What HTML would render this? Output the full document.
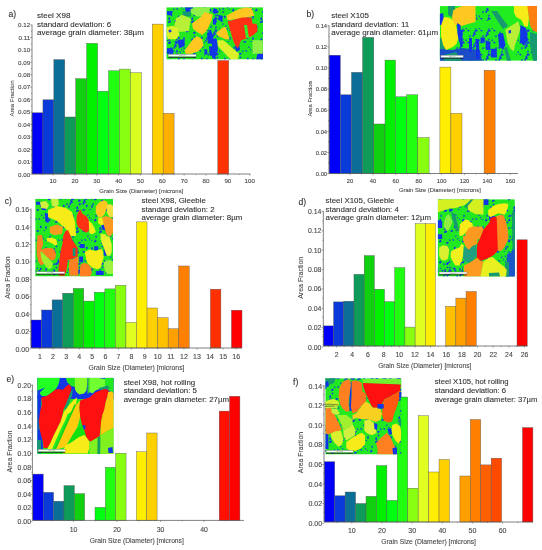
<!DOCTYPE html>
<html><head><meta charset="utf-8"><title>Grain size distributions</title>
<style>
html,body{margin:0;padding:0;background:#fff;}
body{width:542px;height:550px;overflow:hidden;}
svg{display:block;filter:blur(0.5px);}
.tl{font-family:"Liberation Sans",Arial,sans-serif;font-size:6.2px;fill:#4a4a4a;stroke:#4a4a4a;stroke-width:0.12px;}
.at{font-family:"Liberation Sans",Arial,sans-serif;font-size:6px;fill:#454545;stroke:#454545;stroke-width:0.08px;}
.tt{font-family:"Liberation Sans",Arial,sans-serif;font-size:8px;fill:#303030;stroke:#303030;stroke-width:0.1px;}
</style></head>
<body>
<svg width="542" height="550" viewBox="0 0 542 550">
<rect width="542" height="550" fill="#fff"/>
<rect x="32" y="112.8" width="10.93" height="61.2" fill="#0000f8" stroke="#555" stroke-width="0.4"/>
<rect x="42.93" y="99.8" width="10.93" height="74.2" fill="#0a3ad8" stroke="#555" stroke-width="0.4"/>
<rect x="53.86" y="59.6" width="10.93" height="114.4" fill="#0a6e96" stroke="#555" stroke-width="0.4"/>
<rect x="64.79" y="117" width="10.93" height="57" fill="#0e9a58" stroke="#555" stroke-width="0.4"/>
<rect x="75.72" y="78.7" width="10.93" height="95.3" fill="#10d010" stroke="#555" stroke-width="0.4"/>
<rect x="86.65" y="43.4" width="10.93" height="130.6" fill="#00f000" stroke="#555" stroke-width="0.4"/>
<rect x="97.58" y="91.2" width="10.93" height="82.8" fill="#00ff10" stroke="#555" stroke-width="0.4"/>
<rect x="108.51" y="70.8" width="10.93" height="103.2" fill="#20ff10" stroke="#555" stroke-width="0.4"/>
<rect x="119.44" y="69.1" width="10.93" height="104.9" fill="#88ff10" stroke="#555" stroke-width="0.4"/>
<rect x="130.37" y="72.7" width="10.93" height="101.3" fill="#d8ff20" stroke="#555" stroke-width="0.4"/>
<rect x="152.23" y="24.1" width="10.93" height="149.9" fill="#ffd000" stroke="#555" stroke-width="0.4"/>
<rect x="163.16" y="113.4" width="10.93" height="60.6" fill="#ffb000" stroke="#555" stroke-width="0.4"/>
<rect x="217.81" y="60.5" width="10.93" height="113.5" fill="#ff3300" stroke="#555" stroke-width="0.4"/>
<line x1="32" y1="24.5" x2="32" y2="174" stroke="#555" stroke-width="0.75"/>
<line x1="32" y1="174" x2="250.5" y2="174" stroke="#555" stroke-width="0.75"/>
<line x1="30.2" y1="174.3" x2="32" y2="174.3" stroke="#555" stroke-width="0.5"/>
<text x="30.1" y="176.53" text-anchor="end" class="tl" style="font-size:6.2px">0.00</text>
<line x1="30.2" y1="161.86" x2="32" y2="161.86" stroke="#555" stroke-width="0.5"/>
<text x="30.1" y="164.09" text-anchor="end" class="tl" style="font-size:6.2px">0.01</text>
<line x1="30.2" y1="149.42" x2="32" y2="149.42" stroke="#555" stroke-width="0.5"/>
<text x="30.1" y="151.65" text-anchor="end" class="tl" style="font-size:6.2px">0.02</text>
<line x1="30.2" y1="136.98" x2="32" y2="136.98" stroke="#555" stroke-width="0.5"/>
<text x="30.1" y="139.21" text-anchor="end" class="tl" style="font-size:6.2px">0.03</text>
<line x1="30.2" y1="124.54" x2="32" y2="124.54" stroke="#555" stroke-width="0.5"/>
<text x="30.1" y="126.77" text-anchor="end" class="tl" style="font-size:6.2px">0.04</text>
<line x1="30.2" y1="112.1" x2="32" y2="112.1" stroke="#555" stroke-width="0.5"/>
<text x="30.1" y="114.33" text-anchor="end" class="tl" style="font-size:6.2px">0.05</text>
<line x1="30.2" y1="99.66" x2="32" y2="99.66" stroke="#555" stroke-width="0.5"/>
<text x="30.1" y="101.89" text-anchor="end" class="tl" style="font-size:6.2px">0.06</text>
<line x1="30.2" y1="87.22" x2="32" y2="87.22" stroke="#555" stroke-width="0.5"/>
<text x="30.1" y="89.45" text-anchor="end" class="tl" style="font-size:6.2px">0.07</text>
<line x1="30.2" y1="74.78" x2="32" y2="74.78" stroke="#555" stroke-width="0.5"/>
<text x="30.1" y="77.01" text-anchor="end" class="tl" style="font-size:6.2px">0.08</text>
<line x1="30.2" y1="62.34" x2="32" y2="62.34" stroke="#555" stroke-width="0.5"/>
<text x="30.1" y="64.57" text-anchor="end" class="tl" style="font-size:6.2px">0.09</text>
<line x1="30.2" y1="49.9" x2="32" y2="49.9" stroke="#555" stroke-width="0.5"/>
<text x="30.1" y="52.13" text-anchor="end" class="tl" style="font-size:6.2px">0.10</text>
<line x1="30.2" y1="37.46" x2="32" y2="37.46" stroke="#555" stroke-width="0.5"/>
<text x="30.1" y="39.69" text-anchor="end" class="tl" style="font-size:6.2px">0.11</text>
<line x1="30.2" y1="25.02" x2="32" y2="25.02" stroke="#555" stroke-width="0.5"/>
<text x="30.1" y="27.25" text-anchor="end" class="tl" style="font-size:6.2px">0.12</text>
<line x1="31" y1="167.8" x2="32" y2="167.8" stroke="#555" stroke-width="0.5"/>
<line x1="31" y1="155.4" x2="32" y2="155.4" stroke="#555" stroke-width="0.5"/>
<line x1="31" y1="143" x2="32" y2="143" stroke="#555" stroke-width="0.5"/>
<line x1="31" y1="130.6" x2="32" y2="130.6" stroke="#555" stroke-width="0.5"/>
<line x1="31" y1="118.2" x2="32" y2="118.2" stroke="#555" stroke-width="0.5"/>
<line x1="31" y1="105.8" x2="32" y2="105.8" stroke="#555" stroke-width="0.5"/>
<line x1="31" y1="93.4" x2="32" y2="93.4" stroke="#555" stroke-width="0.5"/>
<line x1="31" y1="81" x2="32" y2="81" stroke="#555" stroke-width="0.5"/>
<line x1="31" y1="68.6" x2="32" y2="68.6" stroke="#555" stroke-width="0.5"/>
<line x1="31" y1="56.2" x2="32" y2="56.2" stroke="#555" stroke-width="0.5"/>
<line x1="31" y1="43.8" x2="32" y2="43.8" stroke="#555" stroke-width="0.5"/>
<line x1="31" y1="31.4" x2="32" y2="31.4" stroke="#555" stroke-width="0.5"/>
<line x1="53.05" y1="174" x2="53.05" y2="175.6" stroke="#555" stroke-width="0.5"/>
<text x="53.05" y="183.23" text-anchor="middle" class="tl" style="font-size:6.2px">10</text>
<line x1="74.9" y1="174" x2="74.9" y2="175.6" stroke="#555" stroke-width="0.5"/>
<text x="74.9" y="183.23" text-anchor="middle" class="tl" style="font-size:6.2px">20</text>
<line x1="96.75" y1="174" x2="96.75" y2="175.6" stroke="#555" stroke-width="0.5"/>
<text x="96.75" y="183.23" text-anchor="middle" class="tl" style="font-size:6.2px">30</text>
<line x1="118.6" y1="174" x2="118.6" y2="175.6" stroke="#555" stroke-width="0.5"/>
<text x="118.6" y="183.23" text-anchor="middle" class="tl" style="font-size:6.2px">40</text>
<line x1="140.45" y1="174" x2="140.45" y2="175.6" stroke="#555" stroke-width="0.5"/>
<text x="140.45" y="183.23" text-anchor="middle" class="tl" style="font-size:6.2px">50</text>
<line x1="162.3" y1="174" x2="162.3" y2="175.6" stroke="#555" stroke-width="0.5"/>
<text x="162.3" y="183.23" text-anchor="middle" class="tl" style="font-size:6.2px">60</text>
<line x1="184.15" y1="174" x2="184.15" y2="175.6" stroke="#555" stroke-width="0.5"/>
<text x="184.15" y="183.23" text-anchor="middle" class="tl" style="font-size:6.2px">70</text>
<line x1="206" y1="174" x2="206" y2="175.6" stroke="#555" stroke-width="0.5"/>
<text x="206" y="183.23" text-anchor="middle" class="tl" style="font-size:6.2px">80</text>
<line x1="227.85" y1="174" x2="227.85" y2="175.6" stroke="#555" stroke-width="0.5"/>
<text x="227.85" y="183.23" text-anchor="middle" class="tl" style="font-size:6.2px">90</text>
<line x1="249.7" y1="174" x2="249.7" y2="175.6" stroke="#555" stroke-width="0.5"/>
<text x="249.7" y="183.23" text-anchor="middle" class="tl" style="font-size:6.2px">100</text>
<line x1="42.92" y1="174" x2="42.92" y2="175" stroke="#555" stroke-width="0.5"/>
<line x1="64.78" y1="174" x2="64.78" y2="175" stroke="#555" stroke-width="0.5"/>
<line x1="86.62" y1="174" x2="86.62" y2="175" stroke="#555" stroke-width="0.5"/>
<line x1="108.48" y1="174" x2="108.48" y2="175" stroke="#555" stroke-width="0.5"/>
<line x1="130.32" y1="174" x2="130.32" y2="175" stroke="#555" stroke-width="0.5"/>
<line x1="152.18" y1="174" x2="152.18" y2="175" stroke="#555" stroke-width="0.5"/>
<line x1="174.03" y1="174" x2="174.03" y2="175" stroke="#555" stroke-width="0.5"/>
<line x1="195.88" y1="174" x2="195.88" y2="175" stroke="#555" stroke-width="0.5"/>
<line x1="217.72" y1="174" x2="217.72" y2="175" stroke="#555" stroke-width="0.5"/>
<line x1="239.58" y1="174" x2="239.58" y2="175" stroke="#555" stroke-width="0.5"/>
<text x="141.3" y="193.26" text-anchor="middle" class="at" style="font-size:6.0px">Grain Size (Diameter) [microns]</text>
<text transform="translate(14.06,98.5) rotate(-90)" text-anchor="middle" class="at" style="font-size:6.0px">Area Fraction</text>
<text x="8.4" y="16.8" class="tt" style="font-size:8.6px">a)</text>
<text x="37" y="17.9" class="tt" style="font-size:8.0px">steel X98</text>
<text x="37" y="26.5" class="tt" style="font-size:8.0px">standard deviation: 6</text>
<text x="37" y="35.1" class="tt" style="font-size:8.0px">average grain diameter: 38µm</text>
<rect x="329.1" y="55.2" width="11.2" height="118.3" fill="#0000f8" stroke="#555" stroke-width="0.4"/>
<rect x="340.3" y="94.8" width="11.2" height="78.7" fill="#0a3ad8" stroke="#555" stroke-width="0.4"/>
<rect x="351.5" y="72.3" width="11.1" height="101.2" fill="#0a6e96" stroke="#555" stroke-width="0.4"/>
<rect x="362.6" y="37.4" width="11.2" height="136.1" fill="#0e9a58" stroke="#555" stroke-width="0.4"/>
<rect x="373.8" y="124" width="11.2" height="49.5" fill="#10d010" stroke="#555" stroke-width="0.4"/>
<rect x="385" y="60.1" width="10.5" height="113.4" fill="#00f000" stroke="#555" stroke-width="0.4"/>
<rect x="395.5" y="96.8" width="11.2" height="76.7" fill="#00ff10" stroke="#555" stroke-width="0.4"/>
<rect x="406.7" y="94.8" width="11.1" height="78.7" fill="#20ff10" stroke="#555" stroke-width="0.4"/>
<rect x="417.8" y="137.6" width="11.3" height="35.9" fill="#88ff10" stroke="#555" stroke-width="0.4"/>
<rect x="439.9" y="67.1" width="11" height="106.4" fill="#ffee00" stroke="#555" stroke-width="0.4"/>
<rect x="450.9" y="113.4" width="11.1" height="60.1" fill="#ffd000" stroke="#555" stroke-width="0.4"/>
<rect x="484.1" y="70.3" width="11" height="103.2" fill="#ff8000" stroke="#555" stroke-width="0.4"/>
<line x1="329" y1="25" x2="329" y2="173.5" stroke="#555" stroke-width="0.75"/>
<line x1="329" y1="173.5" x2="518" y2="173.5" stroke="#555" stroke-width="0.75"/>
<line x1="327.2" y1="173.7" x2="329" y2="173.7" stroke="#555" stroke-width="0.5"/>
<text x="327.1" y="175.79" text-anchor="end" class="tl" style="font-size:5.8px">0.00</text>
<line x1="327.2" y1="152.56" x2="329" y2="152.56" stroke="#555" stroke-width="0.5"/>
<text x="327.1" y="154.65" text-anchor="end" class="tl" style="font-size:5.8px">0.02</text>
<line x1="327.2" y1="131.42" x2="329" y2="131.42" stroke="#555" stroke-width="0.5"/>
<text x="327.1" y="133.51" text-anchor="end" class="tl" style="font-size:5.8px">0.04</text>
<line x1="327.2" y1="110.28" x2="329" y2="110.28" stroke="#555" stroke-width="0.5"/>
<text x="327.1" y="112.37" text-anchor="end" class="tl" style="font-size:5.8px">0.06</text>
<line x1="327.2" y1="89.14" x2="329" y2="89.14" stroke="#555" stroke-width="0.5"/>
<text x="327.1" y="91.23" text-anchor="end" class="tl" style="font-size:5.8px">0.08</text>
<line x1="327.2" y1="68" x2="329" y2="68" stroke="#555" stroke-width="0.5"/>
<text x="327.1" y="70.09" text-anchor="end" class="tl" style="font-size:5.8px">0.10</text>
<line x1="327.2" y1="46.86" x2="329" y2="46.86" stroke="#555" stroke-width="0.5"/>
<text x="327.1" y="48.95" text-anchor="end" class="tl" style="font-size:5.8px">0.12</text>
<line x1="327.2" y1="25.72" x2="329" y2="25.72" stroke="#555" stroke-width="0.5"/>
<text x="327.1" y="27.81" text-anchor="end" class="tl" style="font-size:5.8px">0.14</text>
<line x1="328" y1="162.94" x2="329" y2="162.94" stroke="#555" stroke-width="0.5"/>
<line x1="328" y1="141.81" x2="329" y2="141.81" stroke="#555" stroke-width="0.5"/>
<line x1="328" y1="120.68" x2="329" y2="120.68" stroke="#555" stroke-width="0.5"/>
<line x1="328" y1="99.55" x2="329" y2="99.55" stroke="#555" stroke-width="0.5"/>
<line x1="328" y1="78.42" x2="329" y2="78.42" stroke="#555" stroke-width="0.5"/>
<line x1="328" y1="57.29" x2="329" y2="57.29" stroke="#555" stroke-width="0.5"/>
<line x1="328" y1="36.16" x2="329" y2="36.16" stroke="#555" stroke-width="0.5"/>
<line x1="350" y1="173.5" x2="350" y2="175.1" stroke="#555" stroke-width="0.5"/>
<text x="350" y="183.09" text-anchor="middle" class="tl" style="font-size:5.8px">20</text>
<line x1="372.9" y1="173.5" x2="372.9" y2="175.1" stroke="#555" stroke-width="0.5"/>
<text x="372.9" y="183.09" text-anchor="middle" class="tl" style="font-size:5.8px">40</text>
<line x1="395.8" y1="173.5" x2="395.8" y2="175.1" stroke="#555" stroke-width="0.5"/>
<text x="395.8" y="183.09" text-anchor="middle" class="tl" style="font-size:5.8px">60</text>
<line x1="418.7" y1="173.5" x2="418.7" y2="175.1" stroke="#555" stroke-width="0.5"/>
<text x="418.7" y="183.09" text-anchor="middle" class="tl" style="font-size:5.8px">80</text>
<line x1="441.6" y1="173.5" x2="441.6" y2="175.1" stroke="#555" stroke-width="0.5"/>
<text x="441.6" y="183.09" text-anchor="middle" class="tl" style="font-size:5.8px">100</text>
<line x1="464.5" y1="173.5" x2="464.5" y2="175.1" stroke="#555" stroke-width="0.5"/>
<text x="464.5" y="183.09" text-anchor="middle" class="tl" style="font-size:5.8px">120</text>
<line x1="487.4" y1="173.5" x2="487.4" y2="175.1" stroke="#555" stroke-width="0.5"/>
<text x="487.4" y="183.09" text-anchor="middle" class="tl" style="font-size:5.8px">140</text>
<line x1="510.3" y1="173.5" x2="510.3" y2="175.1" stroke="#555" stroke-width="0.5"/>
<text x="510.3" y="183.09" text-anchor="middle" class="tl" style="font-size:5.8px">160</text>
<line x1="338.55" y1="173.5" x2="338.55" y2="174.5" stroke="#555" stroke-width="0.5"/>
<line x1="361.45" y1="173.5" x2="361.45" y2="174.5" stroke="#555" stroke-width="0.5"/>
<line x1="384.35" y1="173.5" x2="384.35" y2="174.5" stroke="#555" stroke-width="0.5"/>
<line x1="407.25" y1="173.5" x2="407.25" y2="174.5" stroke="#555" stroke-width="0.5"/>
<line x1="430.15" y1="173.5" x2="430.15" y2="174.5" stroke="#555" stroke-width="0.5"/>
<line x1="453.05" y1="173.5" x2="453.05" y2="174.5" stroke="#555" stroke-width="0.5"/>
<line x1="475.95" y1="173.5" x2="475.95" y2="174.5" stroke="#555" stroke-width="0.5"/>
<line x1="498.85" y1="173.5" x2="498.85" y2="174.5" stroke="#555" stroke-width="0.5"/>
<text x="439.9" y="191.71" text-anchor="middle" class="at" style="font-size:5.85px">Grain Size (Diameter) [microns]</text>
<text transform="translate(311.62,98.9) rotate(-90)" text-anchor="middle" class="at" style="font-size:5.9px">Area Fraction</text>
<text x="306.5" y="17.4" class="tt" style="font-size:8.6px">b)</text>
<text x="331.2" y="17.6" class="tt" style="font-size:8.0px">steel X105</text>
<text x="331.2" y="26.5" class="tt" style="font-size:8.0px">standard deviation: 11</text>
<text x="331.2" y="35.2" class="tt" style="font-size:8.0px">average grain diameter: 61µm</text>
<rect x="31" y="320" width="10.55" height="28" fill="#0000f8" stroke="#555" stroke-width="0.4"/>
<rect x="41.55" y="310" width="10.55" height="38" fill="#0a3ad8" stroke="#555" stroke-width="0.4"/>
<rect x="52.1" y="299.9" width="10.55" height="48.1" fill="#0a6e96" stroke="#555" stroke-width="0.4"/>
<rect x="62.65" y="293.2" width="10.55" height="54.8" fill="#0e9a58" stroke="#555" stroke-width="0.4"/>
<rect x="73.2" y="288.4" width="10.55" height="59.6" fill="#10d010" stroke="#555" stroke-width="0.4"/>
<rect x="83.75" y="301.1" width="10.55" height="46.9" fill="#00f000" stroke="#555" stroke-width="0.4"/>
<rect x="94.3" y="292.2" width="10.55" height="55.8" fill="#00ff10" stroke="#555" stroke-width="0.4"/>
<rect x="104.85" y="288.9" width="10.55" height="59.1" fill="#20ff10" stroke="#555" stroke-width="0.4"/>
<rect x="115.4" y="285.3" width="10.55" height="62.7" fill="#88ff10" stroke="#555" stroke-width="0.4"/>
<rect x="125.95" y="322.4" width="10.55" height="25.6" fill="#e0ff20" stroke="#555" stroke-width="0.4"/>
<rect x="136.5" y="221.9" width="10.55" height="126.1" fill="#ffee00" stroke="#555" stroke-width="0.4"/>
<rect x="147.05" y="308" width="10.55" height="40" fill="#ffd000" stroke="#555" stroke-width="0.4"/>
<rect x="157.6" y="317.7" width="10.55" height="30.3" fill="#ffc000" stroke="#555" stroke-width="0.4"/>
<rect x="168.15" y="328.8" width="10.55" height="19.2" fill="#ffa000" stroke="#555" stroke-width="0.4"/>
<rect x="178.7" y="266" width="10.55" height="82" fill="#ff8000" stroke="#555" stroke-width="0.4"/>
<rect x="210.35" y="289.2" width="10.55" height="58.8" fill="#ff3000" stroke="#555" stroke-width="0.4"/>
<rect x="231.45" y="310.2" width="10.55" height="37.8" fill="#ff0000" stroke="#555" stroke-width="0.4"/>
<line x1="31" y1="208.5" x2="31" y2="348" stroke="#555" stroke-width="0.75"/>
<line x1="31" y1="348" x2="242" y2="348" stroke="#555" stroke-width="0.75"/>
<line x1="29.2" y1="349" x2="31" y2="349" stroke="#555" stroke-width="0.5"/>
<text x="29.1" y="351.52" text-anchor="end" class="tl" style="font-size:7.0px">0.00</text>
<line x1="29.2" y1="331.59" x2="31" y2="331.59" stroke="#555" stroke-width="0.5"/>
<text x="29.1" y="334.11" text-anchor="end" class="tl" style="font-size:7.0px">0.02</text>
<line x1="29.2" y1="314.18" x2="31" y2="314.18" stroke="#555" stroke-width="0.5"/>
<text x="29.1" y="316.7" text-anchor="end" class="tl" style="font-size:7.0px">0.04</text>
<line x1="29.2" y1="296.77" x2="31" y2="296.77" stroke="#555" stroke-width="0.5"/>
<text x="29.1" y="299.29" text-anchor="end" class="tl" style="font-size:7.0px">0.06</text>
<line x1="29.2" y1="279.36" x2="31" y2="279.36" stroke="#555" stroke-width="0.5"/>
<text x="29.1" y="281.88" text-anchor="end" class="tl" style="font-size:7.0px">0.08</text>
<line x1="29.2" y1="261.95" x2="31" y2="261.95" stroke="#555" stroke-width="0.5"/>
<text x="29.1" y="264.47" text-anchor="end" class="tl" style="font-size:7.0px">0.10</text>
<line x1="29.2" y1="244.54" x2="31" y2="244.54" stroke="#555" stroke-width="0.5"/>
<text x="29.1" y="247.06" text-anchor="end" class="tl" style="font-size:7.0px">0.12</text>
<line x1="29.2" y1="227.13" x2="31" y2="227.13" stroke="#555" stroke-width="0.5"/>
<text x="29.1" y="229.65" text-anchor="end" class="tl" style="font-size:7.0px">0.14</text>
<line x1="29.2" y1="209.72" x2="31" y2="209.72" stroke="#555" stroke-width="0.5"/>
<text x="29.1" y="212.24" text-anchor="end" class="tl" style="font-size:7.0px">0.16</text>
<line x1="30" y1="339.3" x2="31" y2="339.3" stroke="#555" stroke-width="0.5"/>
<line x1="30" y1="321.9" x2="31" y2="321.9" stroke="#555" stroke-width="0.5"/>
<line x1="30" y1="304.5" x2="31" y2="304.5" stroke="#555" stroke-width="0.5"/>
<line x1="30" y1="287.1" x2="31" y2="287.1" stroke="#555" stroke-width="0.5"/>
<line x1="30" y1="269.7" x2="31" y2="269.7" stroke="#555" stroke-width="0.5"/>
<line x1="30" y1="252.3" x2="31" y2="252.3" stroke="#555" stroke-width="0.5"/>
<line x1="30" y1="234.9" x2="31" y2="234.9" stroke="#555" stroke-width="0.5"/>
<line x1="30" y1="217.5" x2="31" y2="217.5" stroke="#555" stroke-width="0.5"/>
<line x1="39.9" y1="348" x2="39.9" y2="349.6" stroke="#555" stroke-width="0.5"/>
<text x="39.9" y="359.32" text-anchor="middle" class="tl" style="font-size:7.0px">1</text>
<line x1="52.99" y1="348" x2="52.99" y2="349.6" stroke="#555" stroke-width="0.5"/>
<text x="52.99" y="359.32" text-anchor="middle" class="tl" style="font-size:7.0px">2</text>
<line x1="66.08" y1="348" x2="66.08" y2="349.6" stroke="#555" stroke-width="0.5"/>
<text x="66.08" y="359.32" text-anchor="middle" class="tl" style="font-size:7.0px">3</text>
<line x1="79.17" y1="348" x2="79.17" y2="349.6" stroke="#555" stroke-width="0.5"/>
<text x="79.17" y="359.32" text-anchor="middle" class="tl" style="font-size:7.0px">4</text>
<line x1="92.26" y1="348" x2="92.26" y2="349.6" stroke="#555" stroke-width="0.5"/>
<text x="92.26" y="359.32" text-anchor="middle" class="tl" style="font-size:7.0px">5</text>
<line x1="105.35" y1="348" x2="105.35" y2="349.6" stroke="#555" stroke-width="0.5"/>
<text x="105.35" y="359.32" text-anchor="middle" class="tl" style="font-size:7.0px">6</text>
<line x1="118.44" y1="348" x2="118.44" y2="349.6" stroke="#555" stroke-width="0.5"/>
<text x="118.44" y="359.32" text-anchor="middle" class="tl" style="font-size:7.0px">7</text>
<line x1="131.53" y1="348" x2="131.53" y2="349.6" stroke="#555" stroke-width="0.5"/>
<text x="131.53" y="359.32" text-anchor="middle" class="tl" style="font-size:7.0px">8</text>
<line x1="144.62" y1="348" x2="144.62" y2="349.6" stroke="#555" stroke-width="0.5"/>
<text x="144.62" y="359.32" text-anchor="middle" class="tl" style="font-size:7.0px">9</text>
<line x1="157.71" y1="348" x2="157.71" y2="349.6" stroke="#555" stroke-width="0.5"/>
<text x="157.71" y="359.32" text-anchor="middle" class="tl" style="font-size:7.0px">10</text>
<line x1="170.8" y1="348" x2="170.8" y2="349.6" stroke="#555" stroke-width="0.5"/>
<text x="170.8" y="359.32" text-anchor="middle" class="tl" style="font-size:7.0px">11</text>
<line x1="183.89" y1="348" x2="183.89" y2="349.6" stroke="#555" stroke-width="0.5"/>
<text x="183.89" y="359.32" text-anchor="middle" class="tl" style="font-size:7.0px">12</text>
<line x1="196.98" y1="348" x2="196.98" y2="349.6" stroke="#555" stroke-width="0.5"/>
<text x="196.98" y="359.32" text-anchor="middle" class="tl" style="font-size:7.0px">13</text>
<line x1="210.07" y1="348" x2="210.07" y2="349.6" stroke="#555" stroke-width="0.5"/>
<text x="210.07" y="359.32" text-anchor="middle" class="tl" style="font-size:7.0px">14</text>
<line x1="223.16" y1="348" x2="223.16" y2="349.6" stroke="#555" stroke-width="0.5"/>
<text x="223.16" y="359.32" text-anchor="middle" class="tl" style="font-size:7.0px">15</text>
<line x1="236.25" y1="348" x2="236.25" y2="349.6" stroke="#555" stroke-width="0.5"/>
<text x="236.25" y="359.32" text-anchor="middle" class="tl" style="font-size:7.0px">16</text>
<text x="136.5" y="370.37" text-anchor="middle" class="at" style="font-size:6.86px">Grain Size (Diameter) [microns]</text>
<text transform="translate(9.86,277.5) rotate(-90)" text-anchor="middle" class="at" style="font-size:7.1px">Area Fraction</text>
<text x="4.8" y="203.5" class="tt" style="font-size:8.6px">c)</text>
<text x="141.5" y="203.1" class="tt" style="font-size:7.88px">steel X98, Gleeble</text>
<text x="141.5" y="212" class="tt" style="font-size:7.88px">standard deviation: 2</text>
<text x="141.5" y="220.3" class="tt" style="font-size:7.88px">average grain diameter: 8µm</text>
<rect x="323.4" y="325.9" width="10.19" height="20.1" fill="#0000f8" stroke="#555" stroke-width="0.4"/>
<rect x="333.59" y="301.9" width="10.19" height="44.1" fill="#0a3ad8" stroke="#555" stroke-width="0.4"/>
<rect x="343.78" y="301.2" width="10.19" height="44.8" fill="#0a6e96" stroke="#555" stroke-width="0.4"/>
<rect x="353.97" y="274.3" width="10.19" height="71.7" fill="#0e9a58" stroke="#555" stroke-width="0.4"/>
<rect x="364.16" y="255.6" width="10.19" height="90.4" fill="#10d010" stroke="#555" stroke-width="0.4"/>
<rect x="374.35" y="289.2" width="10.19" height="56.8" fill="#00f000" stroke="#555" stroke-width="0.4"/>
<rect x="384.54" y="301.6" width="10.19" height="44.4" fill="#00ff10" stroke="#555" stroke-width="0.4"/>
<rect x="394.73" y="267.6" width="10.19" height="78.4" fill="#20ff10" stroke="#555" stroke-width="0.4"/>
<rect x="404.92" y="327.1" width="10.19" height="18.9" fill="#88ff10" stroke="#555" stroke-width="0.4"/>
<rect x="415.11" y="223.7" width="10.19" height="122.3" fill="#e0ff20" stroke="#555" stroke-width="0.4"/>
<rect x="425.3" y="223.7" width="10.19" height="122.3" fill="#ffee00" stroke="#555" stroke-width="0.4"/>
<rect x="445.68" y="306.3" width="10.19" height="39.7" fill="#ffc000" stroke="#555" stroke-width="0.4"/>
<rect x="455.87" y="298.1" width="10.19" height="47.9" fill="#ffa000" stroke="#555" stroke-width="0.4"/>
<rect x="466.06" y="291.5" width="10.19" height="54.5" fill="#ff8000" stroke="#555" stroke-width="0.4"/>
<rect x="517.01" y="239.8" width="10.19" height="106.2" fill="#ff0000" stroke="#555" stroke-width="0.4"/>
<line x1="323.3" y1="211" x2="323.3" y2="346" stroke="#555" stroke-width="0.75"/>
<line x1="323.3" y1="346" x2="527.5" y2="346" stroke="#555" stroke-width="0.75"/>
<line x1="321.5" y1="347.1" x2="323.3" y2="347.1" stroke="#555" stroke-width="0.5"/>
<text x="321.4" y="349.58" text-anchor="end" class="tl" style="font-size:6.9px">0.00</text>
<line x1="321.5" y1="327.71" x2="323.3" y2="327.71" stroke="#555" stroke-width="0.5"/>
<text x="321.4" y="330.19" text-anchor="end" class="tl" style="font-size:6.9px">0.02</text>
<line x1="321.5" y1="308.32" x2="323.3" y2="308.32" stroke="#555" stroke-width="0.5"/>
<text x="321.4" y="310.8" text-anchor="end" class="tl" style="font-size:6.9px">0.04</text>
<line x1="321.5" y1="288.93" x2="323.3" y2="288.93" stroke="#555" stroke-width="0.5"/>
<text x="321.4" y="291.41" text-anchor="end" class="tl" style="font-size:6.9px">0.06</text>
<line x1="321.5" y1="269.54" x2="323.3" y2="269.54" stroke="#555" stroke-width="0.5"/>
<text x="321.4" y="272.02" text-anchor="end" class="tl" style="font-size:6.9px">0.08</text>
<line x1="321.5" y1="250.15" x2="323.3" y2="250.15" stroke="#555" stroke-width="0.5"/>
<text x="321.4" y="252.63" text-anchor="end" class="tl" style="font-size:6.9px">0.10</text>
<line x1="321.5" y1="230.76" x2="323.3" y2="230.76" stroke="#555" stroke-width="0.5"/>
<text x="321.4" y="233.24" text-anchor="end" class="tl" style="font-size:6.9px">0.12</text>
<line x1="321.5" y1="211.37" x2="323.3" y2="211.37" stroke="#555" stroke-width="0.5"/>
<text x="321.4" y="213.85" text-anchor="end" class="tl" style="font-size:6.9px">0.14</text>
<line x1="322.3" y1="336.4" x2="323.3" y2="336.4" stroke="#555" stroke-width="0.5"/>
<line x1="322.3" y1="317.2" x2="323.3" y2="317.2" stroke="#555" stroke-width="0.5"/>
<line x1="322.3" y1="298" x2="323.3" y2="298" stroke="#555" stroke-width="0.5"/>
<line x1="322.3" y1="278.8" x2="323.3" y2="278.8" stroke="#555" stroke-width="0.5"/>
<line x1="322.3" y1="259.6" x2="323.3" y2="259.6" stroke="#555" stroke-width="0.5"/>
<line x1="322.3" y1="240.4" x2="323.3" y2="240.4" stroke="#555" stroke-width="0.5"/>
<line x1="322.3" y1="221.2" x2="323.3" y2="221.2" stroke="#555" stroke-width="0.5"/>
<line x1="336.57" y1="346" x2="336.57" y2="347.6" stroke="#555" stroke-width="0.5"/>
<text x="336.57" y="357.18" text-anchor="middle" class="tl" style="font-size:6.9px">2</text>
<line x1="352.23" y1="346" x2="352.23" y2="347.6" stroke="#555" stroke-width="0.5"/>
<text x="352.23" y="357.18" text-anchor="middle" class="tl" style="font-size:6.9px">4</text>
<line x1="367.9" y1="346" x2="367.9" y2="347.6" stroke="#555" stroke-width="0.5"/>
<text x="367.9" y="357.18" text-anchor="middle" class="tl" style="font-size:6.9px">6</text>
<line x1="383.56" y1="346" x2="383.56" y2="347.6" stroke="#555" stroke-width="0.5"/>
<text x="383.56" y="357.18" text-anchor="middle" class="tl" style="font-size:6.9px">8</text>
<line x1="399.23" y1="346" x2="399.23" y2="347.6" stroke="#555" stroke-width="0.5"/>
<text x="399.23" y="357.18" text-anchor="middle" class="tl" style="font-size:6.9px">10</text>
<line x1="414.9" y1="346" x2="414.9" y2="347.6" stroke="#555" stroke-width="0.5"/>
<text x="414.9" y="357.18" text-anchor="middle" class="tl" style="font-size:6.9px">12</text>
<line x1="430.56" y1="346" x2="430.56" y2="347.6" stroke="#555" stroke-width="0.5"/>
<text x="430.56" y="357.18" text-anchor="middle" class="tl" style="font-size:6.9px">14</text>
<line x1="446.23" y1="346" x2="446.23" y2="347.6" stroke="#555" stroke-width="0.5"/>
<text x="446.23" y="357.18" text-anchor="middle" class="tl" style="font-size:6.9px">16</text>
<line x1="461.89" y1="346" x2="461.89" y2="347.6" stroke="#555" stroke-width="0.5"/>
<text x="461.89" y="357.18" text-anchor="middle" class="tl" style="font-size:6.9px">18</text>
<line x1="477.56" y1="346" x2="477.56" y2="347.6" stroke="#555" stroke-width="0.5"/>
<text x="477.56" y="357.18" text-anchor="middle" class="tl" style="font-size:6.9px">20</text>
<line x1="493.23" y1="346" x2="493.23" y2="347.6" stroke="#555" stroke-width="0.5"/>
<text x="493.23" y="357.18" text-anchor="middle" class="tl" style="font-size:6.9px">22</text>
<line x1="508.89" y1="346" x2="508.89" y2="347.6" stroke="#555" stroke-width="0.5"/>
<text x="508.89" y="357.18" text-anchor="middle" class="tl" style="font-size:6.9px">24</text>
<line x1="524.56" y1="346" x2="524.56" y2="347.6" stroke="#555" stroke-width="0.5"/>
<text x="524.56" y="357.18" text-anchor="middle" class="tl" style="font-size:6.9px">26</text>
<line x1="328.73" y1="346" x2="328.73" y2="347" stroke="#555" stroke-width="0.5"/>
<line x1="344.4" y1="346" x2="344.4" y2="347" stroke="#555" stroke-width="0.5"/>
<line x1="360.06" y1="346" x2="360.06" y2="347" stroke="#555" stroke-width="0.5"/>
<line x1="375.73" y1="346" x2="375.73" y2="347" stroke="#555" stroke-width="0.5"/>
<line x1="391.4" y1="346" x2="391.4" y2="347" stroke="#555" stroke-width="0.5"/>
<line x1="407.06" y1="346" x2="407.06" y2="347" stroke="#555" stroke-width="0.5"/>
<line x1="422.73" y1="346" x2="422.73" y2="347" stroke="#555" stroke-width="0.5"/>
<line x1="438.39" y1="346" x2="438.39" y2="347" stroke="#555" stroke-width="0.5"/>
<line x1="454.06" y1="346" x2="454.06" y2="347" stroke="#555" stroke-width="0.5"/>
<line x1="469.73" y1="346" x2="469.73" y2="347" stroke="#555" stroke-width="0.5"/>
<line x1="485.39" y1="346" x2="485.39" y2="347" stroke="#555" stroke-width="0.5"/>
<line x1="501.06" y1="346" x2="501.06" y2="347" stroke="#555" stroke-width="0.5"/>
<line x1="516.73" y1="346" x2="516.73" y2="347" stroke="#555" stroke-width="0.5"/>
<text x="424.8" y="367.9" text-anchor="middle" class="at" style="font-size:6.67px">Grain Size (Diameter) [microns]</text>
<text transform="translate(303.02,277.8) rotate(-90)" text-anchor="middle" class="at" style="font-size:7.0px">Area Fraction</text>
<text x="298.6" y="204.8" class="tt" style="font-size:8.6px">d)</text>
<text x="325.6" y="203.2" class="tt" style="font-size:7.9px">steel X105, Gleeble</text>
<text x="325.6" y="211.7" class="tt" style="font-size:7.9px">standard deviation: 4</text>
<text x="325.6" y="220.2" class="tt" style="font-size:7.9px">average grain diameter: 12µm</text>
<rect x="32.9" y="474.1" width="10.35" height="46.3" fill="#0000f8" stroke="#555" stroke-width="0.4"/>
<rect x="43.25" y="492.3" width="10.35" height="28.1" fill="#0a3ad8" stroke="#555" stroke-width="0.4"/>
<rect x="53.6" y="501.2" width="10.35" height="19.2" fill="#0a6e96" stroke="#555" stroke-width="0.4"/>
<rect x="63.95" y="485.6" width="10.35" height="34.8" fill="#0e9a58" stroke="#555" stroke-width="0.4"/>
<rect x="74.3" y="493.7" width="10.35" height="26.7" fill="#10d010" stroke="#555" stroke-width="0.4"/>
<rect x="95" y="507.4" width="10.35" height="13" fill="#00ff10" stroke="#555" stroke-width="0.4"/>
<rect x="105.35" y="467.3" width="10.35" height="53.1" fill="#20ff10" stroke="#555" stroke-width="0.4"/>
<rect x="115.7" y="453.2" width="10.35" height="67.2" fill="#88ff10" stroke="#555" stroke-width="0.4"/>
<rect x="136.4" y="451.8" width="10.35" height="68.6" fill="#ffee00" stroke="#555" stroke-width="0.4"/>
<rect x="146.75" y="433" width="10.35" height="87.4" fill="#ffd000" stroke="#555" stroke-width="0.4"/>
<rect x="219.2" y="411.1" width="10.35" height="109.3" fill="#ff1000" stroke="#555" stroke-width="0.4"/>
<rect x="229.55" y="396.3" width="10.35" height="124.1" fill="#ff0000" stroke="#555" stroke-width="0.4"/>
<line x1="32.4" y1="384.5" x2="32.4" y2="520.4" stroke="#555" stroke-width="0.75"/>
<line x1="32.4" y1="520.4" x2="244" y2="520.4" stroke="#555" stroke-width="0.75"/>
<line x1="30.6" y1="521.6" x2="32.4" y2="521.6" stroke="#555" stroke-width="0.5"/>
<text x="31" y="524.08" text-anchor="end" class="tl" style="font-size:6.9px">0.00</text>
<line x1="30.6" y1="507.97" x2="32.4" y2="507.97" stroke="#555" stroke-width="0.5"/>
<text x="31" y="510.45" text-anchor="end" class="tl" style="font-size:6.9px">0.02</text>
<line x1="30.6" y1="494.34" x2="32.4" y2="494.34" stroke="#555" stroke-width="0.5"/>
<text x="31" y="496.82" text-anchor="end" class="tl" style="font-size:6.9px">0.04</text>
<line x1="30.6" y1="480.71" x2="32.4" y2="480.71" stroke="#555" stroke-width="0.5"/>
<text x="31" y="483.19" text-anchor="end" class="tl" style="font-size:6.9px">0.06</text>
<line x1="30.6" y1="467.08" x2="32.4" y2="467.08" stroke="#555" stroke-width="0.5"/>
<text x="31" y="469.56" text-anchor="end" class="tl" style="font-size:6.9px">0.08</text>
<line x1="30.6" y1="453.45" x2="32.4" y2="453.45" stroke="#555" stroke-width="0.5"/>
<text x="31" y="455.93" text-anchor="end" class="tl" style="font-size:6.9px">0.10</text>
<line x1="30.6" y1="439.82" x2="32.4" y2="439.82" stroke="#555" stroke-width="0.5"/>
<text x="31" y="442.3" text-anchor="end" class="tl" style="font-size:6.9px">0.12</text>
<line x1="30.6" y1="426.19" x2="32.4" y2="426.19" stroke="#555" stroke-width="0.5"/>
<text x="31" y="428.67" text-anchor="end" class="tl" style="font-size:6.9px">0.14</text>
<line x1="30.6" y1="412.56" x2="32.4" y2="412.56" stroke="#555" stroke-width="0.5"/>
<text x="31" y="415.04" text-anchor="end" class="tl" style="font-size:6.9px">0.16</text>
<line x1="30.6" y1="398.93" x2="32.4" y2="398.93" stroke="#555" stroke-width="0.5"/>
<text x="31" y="401.41" text-anchor="end" class="tl" style="font-size:6.9px">0.18</text>
<line x1="30.6" y1="385.3" x2="32.4" y2="385.3" stroke="#555" stroke-width="0.5"/>
<text x="31" y="387.78" text-anchor="end" class="tl" style="font-size:6.9px">0.20</text>
<line x1="31.4" y1="513.62" x2="32.4" y2="513.62" stroke="#555" stroke-width="0.5"/>
<line x1="31.4" y1="500.06" x2="32.4" y2="500.06" stroke="#555" stroke-width="0.5"/>
<line x1="31.4" y1="486.5" x2="32.4" y2="486.5" stroke="#555" stroke-width="0.5"/>
<line x1="31.4" y1="472.94" x2="32.4" y2="472.94" stroke="#555" stroke-width="0.5"/>
<line x1="31.4" y1="459.38" x2="32.4" y2="459.38" stroke="#555" stroke-width="0.5"/>
<line x1="31.4" y1="445.82" x2="32.4" y2="445.82" stroke="#555" stroke-width="0.5"/>
<line x1="31.4" y1="432.26" x2="32.4" y2="432.26" stroke="#555" stroke-width="0.5"/>
<line x1="31.4" y1="418.7" x2="32.4" y2="418.7" stroke="#555" stroke-width="0.5"/>
<line x1="31.4" y1="405.14" x2="32.4" y2="405.14" stroke="#555" stroke-width="0.5"/>
<line x1="31.4" y1="391.58" x2="32.4" y2="391.58" stroke="#555" stroke-width="0.5"/>
<line x1="73.5" y1="520.4" x2="73.5" y2="522" stroke="#555" stroke-width="0.5"/>
<text x="73.5" y="531.68" text-anchor="middle" class="tl" style="font-size:6.9px">10</text>
<line x1="117" y1="520.4" x2="117" y2="522" stroke="#555" stroke-width="0.5"/>
<text x="117" y="531.68" text-anchor="middle" class="tl" style="font-size:6.9px">20</text>
<line x1="160.5" y1="520.4" x2="160.5" y2="522" stroke="#555" stroke-width="0.5"/>
<text x="160.5" y="531.68" text-anchor="middle" class="tl" style="font-size:6.9px">30</text>
<line x1="204" y1="520.4" x2="204" y2="522" stroke="#555" stroke-width="0.5"/>
<text x="204" y="531.68" text-anchor="middle" class="tl" style="font-size:6.9px">40</text>
<line x1="51.75" y1="520.4" x2="51.75" y2="521.4" stroke="#555" stroke-width="0.5"/>
<line x1="95.25" y1="520.4" x2="95.25" y2="521.4" stroke="#555" stroke-width="0.5"/>
<line x1="138.75" y1="520.4" x2="138.75" y2="521.4" stroke="#555" stroke-width="0.5"/>
<line x1="182.25" y1="520.4" x2="182.25" y2="521.4" stroke="#555" stroke-width="0.5"/>
<line x1="225.75" y1="520.4" x2="225.75" y2="521.4" stroke="#555" stroke-width="0.5"/>
<text x="136.8" y="543.12" text-anchor="middle" class="at" style="font-size:6.73px">Grain Size (Diameter) [microns]</text>
<text transform="translate(12.42,451.5) rotate(-90)" text-anchor="middle" class="at" style="font-size:7.0px">Area Fraction</text>
<text x="6.4" y="381.7" class="tt" style="font-size:8.6px">e)</text>
<text x="123.7" y="384.7" class="tt" style="font-size:7.9px">steel X98, hot rolling</text>
<text x="123.7" y="393.3" class="tt" style="font-size:7.9px">standard deviation: 5</text>
<text x="123.7" y="401.9" class="tt" style="font-size:7.9px">average grain diameter: 27µm</text>
<rect x="324.3" y="461.7" width="10.43" height="60.3" fill="#0000f8" stroke="#555" stroke-width="0.4"/>
<rect x="334.73" y="495.8" width="10.43" height="26.2" fill="#0a3ad8" stroke="#555" stroke-width="0.4"/>
<rect x="345.16" y="492" width="10.43" height="30" fill="#0a6e96" stroke="#555" stroke-width="0.4"/>
<rect x="355.59" y="503.5" width="10.43" height="18.5" fill="#0e9a58" stroke="#555" stroke-width="0.4"/>
<rect x="366.02" y="496.3" width="10.43" height="25.7" fill="#10d010" stroke="#555" stroke-width="0.4"/>
<rect x="376.45" y="465.6" width="10.43" height="56.4" fill="#00f000" stroke="#555" stroke-width="0.4"/>
<rect x="386.88" y="500.4" width="10.43" height="21.6" fill="#00ff10" stroke="#555" stroke-width="0.4"/>
<rect x="397.31" y="397" width="10.43" height="125" fill="#20ff10" stroke="#555" stroke-width="0.4"/>
<rect x="407.74" y="488.2" width="10.43" height="33.8" fill="#88ff10" stroke="#555" stroke-width="0.4"/>
<rect x="418.17" y="415.8" width="10.43" height="106.2" fill="#e0ff20" stroke="#555" stroke-width="0.4"/>
<rect x="428.6" y="472" width="10.43" height="50" fill="#ffee00" stroke="#555" stroke-width="0.4"/>
<rect x="439.03" y="459.5" width="10.43" height="62.5" fill="#ffd000" stroke="#555" stroke-width="0.4"/>
<rect x="459.89" y="476" width="10.43" height="46" fill="#ffa000" stroke="#555" stroke-width="0.4"/>
<rect x="470.32" y="419.5" width="10.43" height="102.5" fill="#ff8000" stroke="#555" stroke-width="0.4"/>
<rect x="480.75" y="464.9" width="10.43" height="57.1" fill="#ff6000" stroke="#555" stroke-width="0.4"/>
<rect x="491.18" y="458.2" width="10.43" height="63.8" fill="#ff4a00" stroke="#555" stroke-width="0.4"/>
<rect x="522.47" y="427.6" width="10.43" height="94.4" fill="#ff0000" stroke="#555" stroke-width="0.4"/>
<line x1="324" y1="385" x2="324" y2="522" stroke="#555" stroke-width="0.75"/>
<line x1="324" y1="522" x2="533" y2="522" stroke="#555" stroke-width="0.75"/>
<line x1="322.2" y1="523.3" x2="324" y2="523.3" stroke="#555" stroke-width="0.5"/>
<text x="322.1" y="525.82" text-anchor="end" class="tl" style="font-size:7.0px">0.00</text>
<line x1="322.2" y1="503.69" x2="324" y2="503.69" stroke="#555" stroke-width="0.5"/>
<text x="322.1" y="506.21" text-anchor="end" class="tl" style="font-size:7.0px">0.02</text>
<line x1="322.2" y1="484.08" x2="324" y2="484.08" stroke="#555" stroke-width="0.5"/>
<text x="322.1" y="486.6" text-anchor="end" class="tl" style="font-size:7.0px">0.04</text>
<line x1="322.2" y1="464.47" x2="324" y2="464.47" stroke="#555" stroke-width="0.5"/>
<text x="322.1" y="466.99" text-anchor="end" class="tl" style="font-size:7.0px">0.06</text>
<line x1="322.2" y1="444.86" x2="324" y2="444.86" stroke="#555" stroke-width="0.5"/>
<text x="322.1" y="447.38" text-anchor="end" class="tl" style="font-size:7.0px">0.08</text>
<line x1="322.2" y1="425.25" x2="324" y2="425.25" stroke="#555" stroke-width="0.5"/>
<text x="322.1" y="427.77" text-anchor="end" class="tl" style="font-size:7.0px">0.10</text>
<line x1="322.2" y1="405.64" x2="324" y2="405.64" stroke="#555" stroke-width="0.5"/>
<text x="322.1" y="408.16" text-anchor="end" class="tl" style="font-size:7.0px">0.12</text>
<line x1="322.2" y1="386.03" x2="324" y2="386.03" stroke="#555" stroke-width="0.5"/>
<text x="322.1" y="388.55" text-anchor="end" class="tl" style="font-size:7.0px">0.14</text>
<line x1="323" y1="512.2" x2="324" y2="512.2" stroke="#555" stroke-width="0.5"/>
<line x1="323" y1="492.6" x2="324" y2="492.6" stroke="#555" stroke-width="0.5"/>
<line x1="323" y1="473" x2="324" y2="473" stroke="#555" stroke-width="0.5"/>
<line x1="323" y1="453.4" x2="324" y2="453.4" stroke="#555" stroke-width="0.5"/>
<line x1="323" y1="433.8" x2="324" y2="433.8" stroke="#555" stroke-width="0.5"/>
<line x1="323" y1="414.2" x2="324" y2="414.2" stroke="#555" stroke-width="0.5"/>
<line x1="323" y1="394.6" x2="324" y2="394.6" stroke="#555" stroke-width="0.5"/>
<line x1="351.85" y1="522" x2="351.85" y2="523.6" stroke="#555" stroke-width="0.5"/>
<text x="351.85" y="533.32" text-anchor="middle" class="tl" style="font-size:7.0px">10</text>
<line x1="382" y1="522" x2="382" y2="523.6" stroke="#555" stroke-width="0.5"/>
<text x="382" y="533.32" text-anchor="middle" class="tl" style="font-size:7.0px">20</text>
<line x1="412.15" y1="522" x2="412.15" y2="523.6" stroke="#555" stroke-width="0.5"/>
<text x="412.15" y="533.32" text-anchor="middle" class="tl" style="font-size:7.0px">30</text>
<line x1="442.3" y1="522" x2="442.3" y2="523.6" stroke="#555" stroke-width="0.5"/>
<text x="442.3" y="533.32" text-anchor="middle" class="tl" style="font-size:7.0px">40</text>
<line x1="472.45" y1="522" x2="472.45" y2="523.6" stroke="#555" stroke-width="0.5"/>
<text x="472.45" y="533.32" text-anchor="middle" class="tl" style="font-size:7.0px">50</text>
<line x1="502.6" y1="522" x2="502.6" y2="523.6" stroke="#555" stroke-width="0.5"/>
<text x="502.6" y="533.32" text-anchor="middle" class="tl" style="font-size:7.0px">60</text>
<line x1="336.77" y1="522" x2="336.77" y2="523" stroke="#555" stroke-width="0.5"/>
<line x1="366.93" y1="522" x2="366.93" y2="523" stroke="#555" stroke-width="0.5"/>
<line x1="397.07" y1="522" x2="397.07" y2="523" stroke="#555" stroke-width="0.5"/>
<line x1="427.23" y1="522" x2="427.23" y2="523" stroke="#555" stroke-width="0.5"/>
<line x1="457.38" y1="522" x2="457.38" y2="523" stroke="#555" stroke-width="0.5"/>
<line x1="487.52" y1="522" x2="487.52" y2="523" stroke="#555" stroke-width="0.5"/>
<line x1="517.67" y1="522" x2="517.67" y2="523" stroke="#555" stroke-width="0.5"/>
<text x="428.6" y="544.44" text-anchor="middle" class="at" style="font-size:6.77px">Grain Size (Diameter) [microns]</text>
<text transform="translate(303.38,452.5) rotate(-90)" text-anchor="middle" class="at" style="font-size:6.9px">Area Fraction</text>
<text x="293.1" y="385" class="tt" style="font-size:8.6px">f)</text>
<text x="434.7" y="384.1" class="tt" style="font-size:7.7px">steel X105, hot rolling</text>
<text x="434.7" y="393.1" class="tt" style="font-size:7.7px">standard deviation: 6</text>
<text x="434.7" y="401.9" class="tt" style="font-size:7.7px">average grain diameter: 37µm</text>
<defs>
<pattern id="spk" width="23" height="21" patternUnits="userSpaceOnUse">
<path d="M9.0,12.7 9.3,11.3 10.4,10.7 11.7,10.9 11.3,12.5 10.0,12.8zM10.5,16.2 9.9,16.0 9.6,15.3 10.3,14.6 10.9,14.8 11.3,15.5 11.3,16.2zM0.1,19.3 -0.7,18.6 -0.7,17.1 -0.3,15.9 0.8,16.4 0.7,18.1zM23.1,19.3 22.3,18.6 22.3,17.1 22.7,15.9 23.8,16.4 23.7,18.1zM17.4,9.7 15.7,9.5 15.3,8.5 15.7,7.8 17.2,8.9zM13.2,10.5 12.5,9.8 12.0,8.9 12.2,8.1 12.7,8.4 13.5,9.3 13.4,9.9zM3.8,9.7 3.3,9.8 2.8,9.4 2.6,8.8 3.1,8.5 3.7,9.0 4.1,9.3zM18.6,6.3 18.3,5.7 18.3,5.2 18.7,4.3 19.3,4.4 19.6,5.0 19.2,6.0zM20.5,-0.1 20.9,-0.8 21.3,-1.0 22.1,-0.9 22.1,-0.4 21.2,0.1zM20.5,20.9 20.9,20.2 21.3,20.0 22.1,20.1 22.1,20.6 21.2,21.1zM7.9,20.6 7.4,19.4 7.4,18.4 7.7,17.2 8.6,17.3 9.1,18.2 9.2,19.5zM7.0,1.7 6.9,0.8 8.5,-0.2 9.9,-0.6 10.1,0.3 9.5,1.4 8.0,2.0zM7.0,22.7 6.9,21.8 8.5,20.8 9.9,20.4 10.1,21.3 9.5,22.4 8.0,23.0zM13.4,0.0 13.7,-0.7 14.8,-1.1 15.5,-0.7 16.3,-0.3 15.6,0.7 13.9,0.7zM13.4,21.0 13.7,20.3 14.8,19.9 15.5,20.3 16.3,20.7 15.6,21.7 13.9,21.7zM21.2,8.3 20.8,8.5 20.2,8.3 19.9,7.7 20.2,7.0 20.9,7.2 21.2,7.6zM1.7,10.8 2.5,9.7 4.2,9.6 4.5,10.8 2.9,11.6zM-0.7,10.1 -1.1,9.6 -0.5,8.7 0.0,9.1 -0.1,10.0zM22.3,10.1 21.9,9.6 22.5,8.7 23.0,9.1 22.9,10.0zM17.1,18.3 16.9,16.4 17.7,15.5 18.6,15.9 18.7,17.6zM3.9,6.9 3.4,6.5 3.4,5.6 4.0,4.3 4.4,4.5 4.7,5.7 4.7,6.8z" fill="#1638e0"/>
</pattern>
<pattern id="spk2" width="13" height="12" patternUnits="userSpaceOnUse">
<path d="M7.8,10.9 6.6,10.9 5.5,10.2 5.3,8.6 6.4,8.7 7.6,9.5zM11.5,5.3 10.7,5.0 10.6,4.0 10.9,3.2 11.7,3.8 11.9,4.9zM5.9,9.2 5.6,8.3 6.6,7.3 7.7,6.7 7.9,7.7 6.6,9.5zM7.8,4.8 7.2,4.3 7.1,3.5 7.9,2.6 8.6,2.8 8.7,3.5 8.5,4.3zM5.5,1.1 4.1,-0.1 4.6,-1.1 5.3,-1.6 6.3,-1.5 6.0,0.3zM5.5,13.1 4.1,11.9 4.6,10.9 5.3,10.4 6.3,10.5 6.0,12.3zM1.8,1.3 1.2,0.8 1.4,-0.2 2.1,-0.9 2.6,-0.7 2.7,0.2 2.5,0.9zM1.8,13.3 1.2,12.8 1.4,11.8 2.1,11.1 2.6,11.3 2.7,12.2 2.5,12.9zM9.8,7.4 9.0,7.4 7.3,7.2 6.5,6.3 7.1,5.6 8.7,5.6 9.3,5.8zM5.8,0.1 5.3,0.3 4.5,-1.0 4.9,-1.3 5.9,-1.7 6.3,-1.0 6.4,-0.6zM5.8,12.1 5.3,12.3 4.5,11.0 4.9,10.7 5.9,10.3 6.3,11.0 6.4,11.4zM1.5,7.1 1.0,7.6 -0.4,7.1 -0.8,6.4 -0.3,5.9 0.6,5.7 1.4,6.5zM14.5,7.1 14.0,7.6 12.6,7.1 12.2,6.4 12.7,5.9 13.6,5.7 14.4,6.5z" fill="#1638e0"/>
</pattern>
</defs>
<clipPath id="ca"><rect x="166.3" y="7.2" width="96.7" height="52.3"/></clipPath>
<g clip-path="url(#ca)">
<rect x="166.3" y="7.2" width="96.7" height="52.3" fill="#22e822"/>
<rect x="166.3" y="7.2" width="96.7" height="52.3" fill="url(#spk)"/>
<polygon points="212.0,8.0 224.0,9.0 226.0,18.0 222.0,28.0 214.0,27.0 212.0,18.0" fill="url(#spk2)"/>
<polygon points="204.0,26.0 217.0,26.0 218.0,59.0 204.0,59.0" fill="url(#spk2)"/>
<polygon points="166.3,40.0 185.0,38.0 186.0,56.0 166.3,56.0" fill="url(#spk2)"/>
<polygon points="182.6,11.2 190.9,11.2 190.9,16.4 182.6,16.4" fill="#169a70"/>
<polygon points="184.7,7.2 193.0,7.2 192.0,11.0 186.0,12.0" fill="#1236e6"/>
<polygon points="167.0,11.0 172.3,11.5 172.0,15.4 167.0,15.0" fill="#1236e6"/>
<polygon points="213.0,9.0 217.0,9.0 218.0,13.0 214.0,14.0" fill="#1236e6"/>
<polygon points="219.0,15.0 223.0,16.0 222.0,21.0 218.0,20.0" fill="#1236e6"/>
<polygon points="213.0,19.0 216.0,19.0 216.0,25.0 213.0,24.0" fill="#1236e6"/>
<polygon points="207.0,33.0 211.0,31.0 213.5,36.0 212.0,44.0 208.0,43.0" fill="#1236e6"/>
<polygon points="209.0,46.0 214.0,47.0 215.0,55.0 210.0,56.0" fill="#1236e6"/>
<polygon points="204.5,50.0 207.0,49.0 207.5,54.0 204.5,55.0" fill="#1236e6"/>
<polygon points="167.0,48.0 173.0,48.5 173.3,53.7 167.0,53.7" fill="#1236e6"/>
<polygon points="177.5,40.0 184.7,39.2 184.7,46.0 179.0,48.5" fill="#1236e6"/>
<polygon points="212.0,38.0 217.0,40.0 218.0,50.0 215.0,58.0 212.0,58.0" fill="#1236e6"/>
<polygon points="258.0,52.0 263.0,50.0 263.0,59.5 256.0,59.5" fill="#1236e6"/>
<polygon points="235.0,46.0 239.0,44.0 240.0,50.0 236.0,52.0" fill="#1236e6"/>
<polygon points="190.4,9.0 198.0,7.2 210.0,7.5 209.6,12.0 205.0,16.4 197.0,16.4 191.0,13.0" fill="#90f048"/>
<polygon points="175.9,18.5 182.0,14.8 190.9,18.5 188.9,30.9 179.5,32.0 174.4,25.7" fill="#b8f038"/>
<polygon points="166.6,27.0 173.0,25.7 178.0,28.0 179.5,35.0 176.0,39.2 168.0,39.2 166.6,35.0" fill="#dcf02c"/>
<polygon points="168.5,30.0 171.0,29.5 171.5,32.0 169.0,32.5" fill="#1236e6"/>
<polygon points="192.0,23.6 201.3,16.4 204.4,12.3 212.7,14.3 211.6,20.5 206.5,30.9 202.3,35.0 197.1,31.9 193.0,28.8" fill="#ffc820"/>
<polygon points="184.7,50.6 193.0,39.2 197.1,36.1 202.3,39.2 203.4,45.4 198.2,51.6 190.9,53.7 185.8,53.7" fill="#ffc820"/>
<polygon points="226.5,15.4 239.0,9.1 246.2,7.2 251.4,8.1 254.5,15.4 243.1,18.5 232.7,19.5 227.6,20.6" fill="#ffc820"/>
<polygon points="227.6,21.6 242.1,17.4 251.4,17.4 252.5,23.7 256.6,23.7 257.6,30.9 253.5,35.1 247.3,38.2 241.0,40.3 237.9,48.6 234.8,44.4 232.7,39.2 230.7,32.0" fill="#ff3014"/>
<polygon points="244.0,25.0 247.0,25.0 249.0,38.0 246.0,38.0" fill="#30f030"/>
<polygon points="216.1,33.0 222.4,27.8 225.5,26.8 229.6,39.2 225.5,39.2 218.2,36.1" fill="#ffc820"/>
<polygon points="217.2,40.3 223.4,40.3 239.0,53.8 237.9,59.5 230.7,59.5 218.2,46.5" fill="#dcf02c"/>
<polygon points="252.5,40.3 262.8,40.3 262.8,53.8 252.5,53.8" fill="#90f048"/>
</g>
<rect x="168.1" y="54.2" width="28" height="2.4" fill="#fff" stroke="#444" stroke-width="0.3"/>
<line x1="168.1" y1="57.5" x2="196.1" y2="57.5" stroke="#222" stroke-width="0.7"/>
<text x="182.1" y="56.1" text-anchor="middle" style="font-family:Liberation Sans,Arial,sans-serif;font-size:1.9px;fill:#777">100 µm</text>
<clipPath id="cb"><rect x="439.7" y="6.1" width="97.3" height="54.7"/></clipPath>
<g clip-path="url(#cb)">
<rect x="439.7" y="6.1" width="97.3" height="54.7" fill="#20ec20"/>
<polygon points="476.0,8.0 490.0,8.0 492.0,20.0 476.0,22.0" fill="url(#spk2)"/>
<polygon points="455.0,28.0 500.0,28.0 505.0,61.0 455.0,61.0" fill="url(#spk2)"/>
<polygon points="518.0,28.0 537.0,30.0 537.0,61.0 516.0,61.0" fill="url(#spk2)"/>
<polygon points="448.0,6.1 455.0,6.1 455.0,15.0 452.0,17.0 448.0,15.0" fill="#169a70"/>
<polygon points="439.7,14.0 443.0,13.0 444.0,20.0 441.8,25.0 439.7,25.0" fill="#1236e6"/>
<polygon points="439.7,38.0 447.0,38.0 447.0,56.0 439.7,56.0" fill="#169a70"/>
<polygon points="439.7,49.0 452.0,50.0 462.0,48.0 480.0,50.0 482.0,61.0 439.7,61.0" fill="#1a4cc8"/>
<polygon points="444.0,55.0 456.0,52.0 462.0,61.0 444.0,61.0" fill="#169a70"/>
<polygon points="444.0,16.9 448.8,17.4 453.1,20.1 455.8,24.4 457.0,30.0 458.7,37.0 456.5,44.0 452.8,47.0 446.1,50.0 443.0,45.0 441.0,36.2 441.0,25.4 442.9,20.1" fill="#f6ec18"/>
<polygon points="453.1,10.4 456.3,8.3 462.0,6.1 475.5,6.1 475.5,22.0 468.0,24.0 461.6,26.0 455.0,24.5 452.0,17.9" fill="#ffc820"/>
<polygon points="457.0,23.0 460.5,25.0 461.0,32.0 459.5,44.0 457.5,34.0" fill="#1236e6"/>
<polygon points="460.0,30.0 462.5,30.0 462.5,46.0 460.0,46.0" fill="#1236e6"/>
<polygon points="469.0,38.0 472.0,38.0 472.0,52.0 469.0,52.0" fill="#1236e6"/>
<polygon points="476.0,39.0 479.0,39.0 479.5,59.0 476.0,59.0" fill="#1236e6"/>
<polygon points="480.5,37.5 485.0,37.6 484.5,42.8 480.5,42.8" fill="#1236e6"/>
<polygon points="485.5,40.0 490.0,42.0 490.5,50.0 486.0,50.0" fill="#1236e6"/>
<polygon points="490.8,48.7 496.7,48.7 497.0,57.5 491.0,57.5" fill="#1236e6"/>
<polygon points="498.0,34.0 503.0,33.0 505.5,45.0 503.0,50.0 499.0,46.0" fill="#1236e6"/>
<polygon points="491.0,11.0 497.0,11.0 508.0,26.0 503.0,29.0" fill="#169a70"/>
<polygon points="504.0,48.0 507.0,47.0 511.0,61.0 507.0,61.0" fill="#169a70"/>
<polygon points="513.9,6.1 527.9,6.1 528.9,18.0 527.9,26.5 524.6,26.5 521.4,20.1 516.1,16.9 513.9,12.6" fill="#f6ec18"/>
<polygon points="527.3,6.1 537.0,6.1 537.0,31.9 533.2,30.8 530.0,25.5 528.9,16.9" fill="#ff8010"/>
<polygon points="505.3,29.8 518.2,21.2 520.4,28.7 517.1,39.4 515.0,44.8 513.9,51.2 510.7,49.1 507.5,42.6" fill="#b8f038"/>
<polygon points="508.5,30.5 511.0,30.0 511.0,33.0 508.5,33.5" fill="#1236e6"/>
<polygon points="520.4,25.0 526.0,28.0 528.0,40.0 524.0,46.0 520.0,42.0" fill="#1236e6"/>
<polygon points="530.0,32.0 537.0,34.0 537.0,60.8 533.0,60.8 530.0,45.0" fill="#169a70"/>
</g>
<rect x="440.8" y="55.2" width="22.5" height="2.4" fill="#fff" stroke="#444" stroke-width="0.3"/>
<line x1="440.8" y1="58.5" x2="463.3" y2="58.5" stroke="#222" stroke-width="0.7"/>
<text x="452.1" y="57.1" text-anchor="middle" style="font-family:Liberation Sans,Arial,sans-serif;font-size:1.9px;fill:#777">100 µm</text>
<clipPath id="cc"><rect x="35.2" y="198.7" width="77.8" height="77.8"/></clipPath>
<g clip-path="url(#cc)">
<rect x="35.2" y="198.7" width="77.8" height="77.8" fill="#22e822"/>
<rect x="35.2" y="198.7" width="77.8" height="77.8" fill="url(#spk)"/>
<polygon points="35.2,262.0 42.0,263.0 44.0,272.0 35.2,272.0" fill="url(#spk2)"/>
<polygon points="52.8,258.0 59.2,258.0 59.2,271.0 52.8,271.0" fill="url(#spk2)"/>
<polygon points="60.0,198.7 95.0,198.7 95.0,206.0 60.0,206.0" fill="url(#spk2)"/>
<polygon points="36.1,201.7 40.8,201.7 40.8,204.8 36.1,204.8" fill="#1236e6"/>
<polygon points="40.8,206.4 46.3,206.4 46.3,210.3 42.0,210.0" fill="#1236e6"/>
<polygon points="44.7,212.6 48.6,214.0 48.6,222.8 45.5,222.0" fill="#1236e6"/>
<polygon points="101.4,224.8 105.3,225.5 105.3,230.3 101.8,229.5" fill="#1236e6"/>
<polygon points="108.5,220.0 112.9,220.0 112.9,224.0 108.5,224.0" fill="#1236e6"/>
<polygon points="80.0,244.0 84.7,244.0 84.7,248.0 80.0,248.0" fill="#1236e6"/>
<polygon points="94.2,246.3 98.2,246.3 98.2,250.3 94.2,250.3" fill="#1236e6"/>
<polygon points="103.7,248.7 106.9,248.7 106.9,255.8 103.7,255.8" fill="#1236e6"/>
<polygon points="79.1,256.6 83.1,256.6 83.1,262.2 79.1,262.2" fill="#1236e6"/>
<polygon points="76.8,269.3 80.0,269.3 80.0,273.3 76.8,273.3" fill="#1236e6"/>
<polygon points="95.8,271.0 103.7,271.0 103.7,275.0 95.8,275.0" fill="#1236e6"/>
<polygon points="40.0,202.0 46.0,201.0 49.0,205.0 47.0,209.0 41.0,208.0" fill="#d0f040"/>
<polygon points="51.0,199.0 58.0,199.0 59.0,204.0 56.0,207.0 52.0,206.0" fill="#c8f040"/>
<polygon points="48.0,210.0 57.0,206.0 66.0,208.0 72.0,212.0 75.0,222.0 76.0,236.0 71.0,236.0 65.0,228.0 57.0,221.0 48.0,217.0" fill="#f6ec18"/>
<polygon points="76.8,216.0 79.1,210.5 80.7,209.7 82.3,213.7 86.3,216.0 88.7,220.0 89.5,223.2 88.7,231.1 86.3,232.7 82.3,230.3 78.3,227.2 76.4,222.4" fill="#ff3014"/>
<polygon points="63.2,236.0 65.5,231.0 68.0,230.0 72.7,240.8 75.1,243.9 77.6,247.9 77.6,256.6 73.5,258.2 70.3,259.8 67.9,259.8 67.1,266.2 66.3,270.9 64.7,275.7 59.2,275.7 58.4,269.3 59.2,262.2 60.0,255.8 60.8,250.3 62.4,243.9" fill="#ff3014"/>
<polygon points="72.8,248.0 75.5,248.0 75.5,256.0 72.8,256.0" fill="#169a70"/>
<polygon points="49.6,227.0 57.0,224.5 63.0,227.0 62.0,234.0 54.0,235.0 50.0,233.0" fill="#ff9a20"/>
<polygon points="37.5,235.5 42.0,235.0 43.3,243.9 41.7,247.9 40.9,254.3 42.5,259.8 44.1,263.8 40.9,265.4 38.6,262.2 37.0,255.8 36.6,247.9" fill="#ff8020"/>
<polygon points="40.1,250.3 45.7,247.9 51.3,247.9 54.4,249.5 56.0,254.3 55.2,259.0 52.8,260.6 50.5,259.8 47.3,257.4 44.1,254.3" fill="#ff8020"/>
<polygon points="40.5,251.1 44.1,254.3 48.9,259.0 52.8,263.0 52.0,267.7 48.9,269.3 45.7,266.2 42.5,261.4 40.9,256.6" fill="#a0f030"/>
<polygon points="46.5,238.4 51.3,237.6 56.0,239.2 57.6,243.9 55.2,245.5 51.3,243.1 47.3,241.6" fill="#f6ec18"/>
<polygon points="69.5,259.8 73.5,259.0 78.3,256.6 78.3,275.7 69.5,275.7 68.7,267.7" fill="#ff8020"/>
<polygon points="80.7,264.6 83.9,263.0 87.9,263.8 91.0,267.7 91.8,273.3 90.3,276.5 79.9,276.5 79.9,269.3" fill="#ff8020"/>
<polygon points="84.7,251.9 89.5,249.5 95.8,251.1 101.4,248.7 103.0,251.9 103.7,257.4 102.2,262.2 100.6,267.7 97.4,269.3 92.6,267.7 87.9,263.8 86.3,259.8 85.5,255.8" fill="#f6ec18"/>
<polygon points="101.4,237.6 105.3,236.0 109.3,236.8 111.7,243.9 111.7,251.9 110.1,255.8 106.9,255.8 105.3,251.9 103.7,247.1 101.4,242.3" fill="#eef030"/>
<polygon points="103.7,262.2 108.5,259.8 113.0,261.4 113.0,274.1 106.9,274.1 104.5,269.3" fill="#a0f040"/>
<polygon points="95.8,206.5 99.0,202.6 103.7,200.2 106.9,201.8 108.5,205.7 106.1,209.7 104.5,214.5 101.4,217.6 98.2,216.8 95.8,212.9" fill="#ffc820"/>
<polygon points="106.9,204.9 110.1,204.1 113.0,205.7 113.0,217.6 109.3,216.8 106.9,212.9" fill="#f0e040"/>
<polygon points="102.2,217.6 106.1,216.0 110.1,217.6 113.0,219.2 113.0,232.7 110.1,236.7 106.9,235.1 105.3,230.3 103.7,224.8 102.2,220.8" fill="#ff9a20"/>
<polygon points="98.2,217.6 102.2,217.6 103.7,224.0 101.4,225.6 98.2,223.2" fill="#f6ec18"/>
<polygon points="88.7,220.8 91.8,223.2 94.2,227.2 95.8,231.9 92.6,234.3 89.5,233.5 89.1,228.7" fill="#f6ec18"/>
<polygon points="100.6,233.5 106.0,234.5 106.0,240.0 100.6,240.0" fill="#e0f030"/>
</g>
<rect x="36.2" y="271.7" width="28.5" height="2.0" fill="#fff" stroke="#444" stroke-width="0.3"/>
<line x1="36.2" y1="274.59999999999997" x2="64.7" y2="274.59999999999997" stroke="#222" stroke-width="0.7"/>
<text x="50.5" y="273.2" text-anchor="middle" style="font-family:Liberation Sans,Arial,sans-serif;font-size:1.9px;fill:#777">100 µm</text>
<clipPath id="cd"><rect x="437.7" y="199.2" width="77.2" height="77.3"/></clipPath>
<g clip-path="url(#cd)">
<rect x="437.7" y="199.2" width="77.2" height="77.3" fill="#22e822"/>
<rect x="437.7" y="199.2" width="77.2" height="77.3" fill="url(#spk)"/>
<polygon points="505.0,210.0 515.0,205.0 515.0,277.0 504.0,277.0" fill="url(#spk2)"/>
<polygon points="437.7,262.0 463.0,262.0 463.0,277.0 437.7,277.0" fill="url(#spk2)"/>
<polygon points="437.7,220.3 442.2,221.0 442.2,228.0 437.7,228.0" fill="#1236e6"/>
<polygon points="437.7,234.2 442.2,234.2 442.2,239.0 437.7,239.0" fill="#1236e6"/>
<polygon points="449.2,208.6 451.5,208.6 451.5,211.7 449.2,211.7" fill="#1236e6"/>
<polygon points="507.0,254.0 515.0,251.0 515.0,277.0 506.0,277.0" fill="#1a58c8"/>
<polygon points="505.0,262.0 509.0,262.0 509.0,277.0 505.0,277.0" fill="#169a70"/>
<polygon points="512.0,212.0 515.0,211.0 515.0,250.0 512.5,250.0" fill="#169a70"/>
<polygon points="483.0,199.2 488.5,199.2 488.5,205.0 483.0,205.0" fill="#1236e6"/>
<polygon points="489.0,216.0 495.0,216.0 495.0,220.0 489.0,220.0" fill="#1236e6"/>
<polygon points="451.0,212.0 455.0,214.0 459.0,230.0 456.0,232.0" fill="#169a70"/>
<polygon points="437.7,199.2 473.2,199.2 467.0,203.2 463.9,205.5 455.4,207.9 450.0,208.6 443.8,210.2 437.7,212.5" fill="#d4f020"/>
<polygon points="467.0,199.2 483.5,199.2 483.5,214.8 475.0,214.0 468.0,210.0" fill="#d4f020"/>
<polygon points="471.0,199.2 473.5,199.2 466.0,208.0 464.0,207.0" fill="#169a70"/>
<polygon points="446.1,216.4 448.4,214.1 451.5,218.7 452.3,222.6 449.2,229.6 446.9,231.1 443.8,226.5 444.5,220.3" fill="#90ee40"/>
<polygon points="460.0,224.1 465.5,219.5 468.6,220.3 472.4,223.4 473.2,226.5 468.6,229.6 465.5,232.7 462.4,235.8 459.3,235.8 459.3,229.6" fill="#f6ec18"/>
<polygon points="468.6,228.0 473.2,226.5 482.0,226.5 483.5,229.6 479.7,239.0 465.5,239.0 465.5,233.4" fill="#ff9a20"/>
<polygon points="488.2,210.2 492.8,206.3 498.3,204.0 504.5,203.2 508.3,204.0 507.6,208.6 506.0,212.5 504.5,214.8 501.4,214.1 498.3,213.3 495.2,214.8 490.5,217.2 488.2,214.8" fill="#f6ec18"/>
<polygon points="490.5,217.9 495.2,216.4 496.7,217.2 497.9,236.0 497.9,250.0 494.4,254.6 490.5,256.9 485.1,259.3 481.2,260.8 476.6,259.3 476.6,251.5 477.3,243.8 479.7,239.0 483.5,229.6 487.4,224.9 489.7,221.8" fill="#ff1010"/>
<polygon points="495.9,216.4 500.6,214.8 503.7,215.6 506.0,221.8 507.6,229.6 508.3,236.0 507.6,240.7 504.5,246.9 501.4,250.7 497.9,250.7 496.7,217.2" fill="#ff8a20"/>
<polygon points="439.1,247.6 443.0,245.3 447.6,246.1 449.2,250.0 448.4,256.2 447.6,259.3 443.8,260.8 440.7,259.3 439.1,255.4" fill="#d8f030"/>
<polygon points="450.7,251.5 454.6,249.2 459.3,247.6 461.6,243.8 463.9,245.3 463.1,255.4 461.6,261.6 459.3,265.5 455.4,265.5 452.3,260.8 450.7,256.9" fill="#f0f020"/>
<polygon points="463.1,236.0 478.0,236.0 477.0,243.8 474.8,245.3 471.7,249.2 468.6,250.0 465.5,246.0 463.1,240.7" fill="#ff9a20"/>
<polygon points="463.9,246.1 468.6,250.0 472.4,246.1 476.3,244.5 476.9,255.4 473.2,260.8 468.6,263.1 464.7,261.6 463.1,256.2" fill="#20a080"/>
<polygon points="463.9,265.5 470.1,262.4 474.8,259.3 478.0,257.7 479.7,260.8 483.5,261.6 482.0,268.6 480.4,276.7 463.9,276.7" fill="#ff9a20"/>
<polygon points="483.5,261.6 489.0,257.7 492.8,256.9 496.7,260.8 500.6,263.9 504.5,267.0 506.8,270.1 506.0,276.7 480.4,276.7 482.0,268.6" fill="#e8f020"/>
<polygon points="489.0,273.0 499.0,272.5 500.0,276.7 489.0,276.7" fill="#169a70"/>
</g>
<rect x="439.1" y="272" width="27.9" height="2.0" fill="#fff" stroke="#444" stroke-width="0.3"/>
<line x1="439.1" y1="274.9" x2="467.0" y2="274.9" stroke="#222" stroke-width="0.7"/>
<text x="453.1" y="273.5" text-anchor="middle" style="font-family:Liberation Sans,Arial,sans-serif;font-size:1.9px;fill:#777">100 µm</text>
<clipPath id="ce"><rect x="37.2" y="377.7" width="76.5" height="76.3"/></clipPath>
<g clip-path="url(#ce)">
<rect x="37.2" y="377.7" width="76.5" height="76.3" fill="#22e822"/>
<polygon points="37.2,377.7 113.7,377.7 113.7,399.0 37.2,399.0" fill="#1236e6"/>
<polygon points="37.2,377.7 59.8,377.7 59.0,382.8 57.5,386.6 55.2,389.7 50.5,393.6 46.6,395.9 41.2,395.9 39.7,392.8 42.8,389.7 45.1,387.4 39.7,389.7 37.2,390.5" fill="#22ff22"/>
<polygon points="66.0,377.7 75.0,377.7 75.0,387.0 71.0,386.0 67.0,382.0" fill="#20e820"/>
<polygon points="74.9,377.7 87.5,377.7 87.2,384.3 86.4,390.5 84.1,393.6 79.4,394.4 76.3,392.1 74.9,389.0" fill="#88ff28"/>
<polygon points="87.5,377.7 91.0,377.7 90.0,392.0 87.5,394.0" fill="#30d030"/>
<polygon points="89.5,378.1 97.3,377.7 105.0,378.9 106.6,382.8 105.0,386.6 99.6,389.0 95.7,390.5 92.6,393.6 89.5,392.1" fill="#70ff30"/>
<polygon points="105.0,377.7 113.7,377.7 113.7,392.8 108.0,390.0 105.0,386.6" fill="#22e822"/>
<polygon points="99.0,388.0 108.0,385.5 110.0,388.0 101.0,391.0" fill="#169a70"/>
<polygon points="37.2,395.0 41.5,395.0 41.0,420.0 42.5,440.0 43.0,449.0 37.2,449.0" fill="#1236e6"/>
<polygon points="38.6,418.7 43.0,418.7 43.5,429.5 38.6,429.5" fill="#169a70"/>
<polygon points="37.2,440.0 41.0,440.0 41.0,453.5 37.2,453.5" fill="#169a70"/>
<polygon points="41.2,397.5 46.6,395.9 50.5,393.6 55.2,389.7 58.3,389.0 62.9,389.7 66.0,386.6 69.1,384.3 71.4,387.4 70.7,392.8 68.3,398.3 66.0,404.5 63.7,409.1 62.1,417.0 60.6,421.8 56.7,429.5 53.6,435.7 50.5,442.7 47.4,448.1 43.5,448.1 42.8,441.1 41.2,435.7 39.7,429.5 38.9,421.8 39.7,414.0 40.4,409.9 42.0,404.5" fill="#ff1010"/>
<polygon points="70.7,392.0 73.0,389.0 72.0,396.0 66.0,410.0 64.0,409.0" fill="#169a70"/>
<polygon points="63.7,412.2 68.3,406.0 73.8,399.8 77.0,397.5 76.0,404.0 72.2,411.4 67.6,414.0 65.2,420.2 61.4,428.0 57.5,436.5 54.4,443.5 52.1,448.9 47.4,448.9 50.5,442.7 53.6,435.7 56.7,429.5 60.6,421.8" fill="#f6ec18"/>
<polygon points="74.5,404.0 76.0,405.0 56.2,448.9 54.6,448.9" fill="#18d018"/>
<polygon points="76.0,405.0 77.0,404.0 80.0,400.6 79.4,407.6 80.2,417.0 77.0,428.0 72.2,435.7 67.6,443.5 64.5,447.3 58.3,448.9 56.2,448.9" fill="#ffcc10"/>
<polygon points="77.0,428.0 77.1,429.5 81.8,424.9 84.1,429.5 84.9,434.2 78.7,437.3 74.0,440.4 70.7,442.7 67.6,444.2 72.2,435.7" fill="#10e010"/>
<polygon points="66.0,445.0 70.7,442.7 74.0,440.4 78.7,437.3 84.1,434.9 87.2,438.0 89.5,441.9 89.5,448.1 88.0,452.0 88.0,453.5 63.0,453.5 64.5,447.3" fill="#f6ec18"/>
<polygon points="80.2,400.6 84.1,399.0 89.5,397.5 94.9,392.8 99.6,390.5 105.0,389.0 108.1,389.7 108.9,392.8 106.6,398.3 105.0,406.0 104.2,411.4 103.5,414.0 102.7,414.0 101.1,421.8 100.4,429.5 99.6,436.5 94.2,439.6 90.3,441.9 86.4,437.3 84.1,429.5 81.8,424.1 80.2,417.0 79.4,407.6" fill="#ff1010"/>
<polygon points="108.1,392.1 111.2,391.3 113.7,392.8 113.7,428.0 107.3,431.1 100.4,435.7 101.1,421.8 102.7,414.0 104.2,409.9 105.8,402.1 107.3,396.7" fill="#ffc810"/>
<polygon points="89.5,441.9 94.2,439.6 100.4,435.7 107.3,431.1 113.7,428.0 113.7,454.5 89.5,454.5" fill="#80f020"/>
<polygon points="97.6,437.5 100.4,436.0 100.2,454.5 97.3,454.5" fill="#16a060"/>
<polygon points="82.5,424.9 85.6,425.5 85.2,429.5 83.5,429.0" fill="#1236e6"/>
<polygon points="108.0,448.0 112.5,447.0 113.0,453.0 108.5,453.0" fill="#1236e6"/>
</g>
<rect x="38.1" y="449.3" width="27.1" height="2.3" fill="#fff" stroke="#444" stroke-width="0.3"/>
<line x1="38.1" y1="452.5" x2="65.2" y2="452.5" stroke="#222" stroke-width="0.7"/>
<text x="51.7" y="451.1" text-anchor="middle" style="font-family:Liberation Sans,Arial,sans-serif;font-size:1.9px;fill:#777">100 µm</text>
<clipPath id="cf"><rect x="325.3" y="378.3" width="76.2" height="76.2"/></clipPath>
<g clip-path="url(#cf)">
<rect x="325.3" y="378.3" width="76.2" height="76.2" fill="#22e822"/>
<rect x="325.3" y="378.3" width="76.2" height="76.2" fill="url(#spk)"/>
<polygon points="325.3,378.3 401.5,378.3 401.5,380.5 325.3,380.5" fill="url(#spk2)"/>
<polygon points="325.3,378.3 336.0,378.3 334.0,383.0 329.0,385.0 325.3,386.0" fill="#169a70"/>
<polygon points="325.3,382.0 328.0,381.0 329.0,386.0 325.3,388.0" fill="#1236e6"/>
<polygon points="349.4,382.2 351.7,382.2 351.7,410.9 349.4,410.9" fill="#1236e6"/>
<polygon points="362.8,379.1 400.8,379.1 400.8,384.5 362.8,383.5" fill="#70f030"/>
<polygon points="342.4,382.2 346.3,379.9 350.1,379.5 350.9,385.3 349.4,395.4 348.6,403.1 349.4,410.9 346.3,411.7 342.4,408.6 340.1,403.9 338.5,395.4 339.3,388.4" fill="#ff8020"/>
<polygon points="351.7,380.7 357.9,380.7 361.8,383.0 362.5,391.5 365.9,393.8 365.9,401.6 361.8,405.5 360.2,407.0 357.1,411.7 352.5,413.2 350.9,407.0 351.7,395.4" fill="#ff7020"/>
<polygon points="362.8,383.0 400.8,384.5 400.0,390.7 395.3,393.8 389.1,396.9 384.5,399.3 381.4,404.7 377.5,407.8 372.9,407.8 369.8,402.4 365.9,393.8 363.6,387.6" fill="#ff1010"/>
<polygon points="384.5,399.3 389.1,396.9 395.3,393.8 400.0,390.7 400.8,391.5 399.2,398.5 397.7,403.9 395.3,410.9 393.8,415.0 392.2,421.2 388.4,422.8 383.7,420.4 382.2,415.0 382.2,408.6 382.9,403.1" fill="#ff5a10"/>
<polygon points="356.3,413.2 361.8,405.5 365.9,401.6 369.8,403.9 372.9,407.8 377.5,407.8 380.6,409.3 382.2,415.0 381.4,415.0 380.6,419.7 376.0,422.0 369.8,419.7 362.0,418.9 355.6,418.0 352.5,419.7 352.5,415.0" fill="#f8d020"/>
<polygon points="377.5,403.9 383.7,403.9 383.7,408.6 377.5,408.6" fill="#1236e6"/>
<polygon points="399.2,392.0 401.5,392.0 401.5,398.0 399.2,398.0" fill="#1236e6"/>
<polygon points="325.3,401.6 330.8,399.3 334.6,399.3 338.5,401.6 339.3,404.7 337.0,406.2 330.8,405.5 325.3,405.5" fill="#d8f030"/>
<polygon points="325.3,405.5 337.0,406.2 338.0,408.0 330.8,408.2 325.3,408.6" fill="#c8f040"/>
<polygon points="325.3,408.6 330.8,407.8 333.9,410.9 334.6,415.0 338.5,422.8 341.6,429.7 338.5,431.3 332.3,432.8 328.4,434.4 325.3,433.6" fill="#ff8020"/>
<polygon points="337.0,415.0 346.3,415.0 352.5,419.7 352.5,424.3 346.3,429.0 343.2,430.5 341.6,425.1" fill="#a0f030"/>
<polygon points="331.0,409.0 337.0,408.5 340.0,414.0 336.0,415.0 332.0,413.0" fill="#c0f040"/>
<polygon points="330.8,433.6 335.4,431.3 340.8,430.5 342.4,435.2 343.2,440.6 341.6,445.2 338.5,446.8 334.6,442.9 331.5,438.3" fill="#d8f030"/>
<polygon points="343.2,430.5 346.3,429.0 352.5,424.3 355.6,430.5 354.8,435.2 350.1,438.3 346.3,440.6 343.9,436.7" fill="#d0f040"/>
<polygon points="346.3,442.1 352.5,437.5 357.9,434.4 361.8,432.8 365.0,435.2 365.1,444.5 361.0,448.3 356.3,450.7 350.1,450.7 346.3,448.3" fill="#f6ec18"/>
<polygon points="364.3,420.4 369.8,419.7 373.6,422.8 375.2,427.4 376.7,432.8 372.1,435.2 367.4,433.6 364.3,430.5" fill="#e0f040"/>
<polygon points="392.2,425.1 396.1,423.5 400.0,425.9 401.5,432.8 400.8,440.6 398.4,443.7 395.3,440.6 392.2,434.4 391.5,429.0" fill="#f6ec18"/>
<polygon points="376.0,442.9 381.4,437.5 386.8,432.8 390.7,437.5 393.0,442.9 395.3,448.3 396.1,454.5 377.5,454.5 377.5,448.3" fill="#ff8020"/>
<polygon points="325.3,433.6 328.4,434.4 328.4,449.1 325.3,449.1" fill="#1236e6"/>
<polygon points="387.5,429.0 391.0,428.0 392.0,434.0 389.0,435.0" fill="#1236e6"/>
<polygon points="374.0,423.0 377.5,424.0 377.0,430.0 374.5,429.0" fill="#1236e6"/>
<polygon points="392.5,448.0 397.0,447.5 397.0,454.5 393.0,454.5" fill="#1236e6"/>
<polygon points="398.5,420.0 401.5,419.0 401.5,427.0 399.5,426.0" fill="#169a70"/>
</g>
<rect x="326.1" y="450.3" width="27.1" height="2.2" fill="#fff" stroke="#444" stroke-width="0.3"/>
<line x1="326.1" y1="453.4" x2="353.20000000000005" y2="453.4" stroke="#222" stroke-width="0.7"/>
<text x="339.7" y="452.0" text-anchor="middle" style="font-family:Liberation Sans,Arial,sans-serif;font-size:1.9px;fill:#777">100 µm</text>
<path d="M322.6,404.3 Q330,403.9 338.5,404.9" stroke="#333" stroke-width="0.55" fill="none"/>
<path d="M324.6,406.6 Q330,406 334.6,406.3" stroke="#333" stroke-width="0.5" fill="none"/>
</svg>
</body></html>
